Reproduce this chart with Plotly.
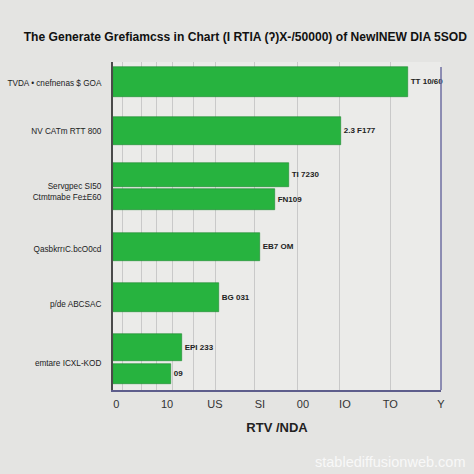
import plotly.graph_objects as go

# ---- data ----
bar_values = [89.9, 69.5, 53.7, 49.4, 44.8, 32.3, 21.0, 17.7]
bar_labels = ["TT 10/60", "2.3 F177", "TI 7230", "FN109", "EB7 OM", "BG 031", "EPI 233", "09"]
category_labels = [
    "TVDA • cnefnenas $ GOA",
    "NV CATm RTT 800",
    "Servgpec SI50<br>Ctmtmabe Fe±E60",
    "QasbkrrıC.bcO0cd",
    "p/de ABCSAC",
    "emtare ICXL-KOD",
]
x_tick_labels = ["0", "10", "US", "SI", "00", "IO", "TO", "Y"]
title_text = "The Generate Grefiamcss in Chart (I RTIA (ʔ)X-/50000) of NewINEW DIA 5SOD"
x_title = "RTV /NDA"

# ---- layout helpers (positions / sizes) ----
bar_pos = [0.82, 2.77, 4.56, 5.54, 7.43, 9.48, 11.5, 12.55]
bar_width = [1.2, 1.13, 0.98, 0.86, 1.13, 1.2, 1.09, 0.82]
cat_pos = [0.84, 2.77, 5.22, 7.55, 9.76, 12.13]
x_tick_pos = [1.0, 16.5, 31.1, 44.8, 57.9, 70.7, 84.5, 100.0]
grid_pos = [3.0, 8.8, 13.4, 18.0, 24.4, 31.1, 43.0, 56.4, 69.2, 84.5]

fig = go.Figure()
fig.add_trace(go.Bar(
    x=bar_values, y=bar_pos, width=bar_width, orientation="h",
    marker=dict(color="#27b33f", line=dict(color="#1e8a30", width=0.6)),
    text=["<b>" + t + "</b>" for t in bar_labels], textposition="outside", cliponaxis=False,
    textfont=dict(family="Liberation Sans Narrow, Liberation Sans, Arial", size=8, color="#222"),
    hoverinfo="skip",
))

fig.update_layout(
    width=474, height=474,
    margin=dict(l=113, r=33, t=62, b=84, autoexpand=False),
    paper_bgcolor="#e4e4e2", plot_bgcolor="#ebebe9",
    showlegend=False,
    font=dict(family="Liberation Sans, Arial", color="#1a1a1a"),
    title=dict(text="<b>" + title_text + "</b>", x=0.05, xanchor="left", y=0.922, yanchor="middle",
               font=dict(size=12.1, color="#111", family="Liberation Sans, Arial")),
    xaxis=dict(
        range=[0, 100], tickmode="array", tickvals=x_tick_pos, ticktext=x_tick_labels,
        showgrid=False, zeroline=False, ticks="", ticklabelstandoff=3, automargin=False,
        tickfont=dict(size=11, color="#333"),
        showline=True, linecolor="#5e5e8c", linewidth=2,
        minor=dict(tickmode="array", tickvals=grid_pos, showgrid=True, gridcolor="#c9c9c9", gridwidth=1, ticks=""),
        title=dict(text="<b>" + x_title + "</b>", font=dict(size=13, color="#222"), standoff=14),
    ),
    yaxis=dict(
        range=[13.2, 0], tickmode="array", tickvals=cat_pos, ticktext=category_labels,
        showgrid=False, zeroline=False, ticks="", ticklabelstandoff=8, automargin=False,
        tickfont=dict(size=8.2, color="#222", family="Liberation Sans, Arial"),
        showline=True, linecolor="#4a4a4a", linewidth=2,
    ),
    bargap=0,
    shapes=[dict(type="line", xref="paper", yref="paper", x0=1, x1=1, y0=0, y1=0.985,
                 line=dict(color="#6e6ea0", width=1.5))],
    annotations=[dict(text="stablediffusionweb.com", xref="paper", yref="paper",
                      x=1.08, y=-0.22, xanchor="right", yanchor="middle", showarrow=False,
                      font=dict(size=14.5, color="#f8f8f8", family="Liberation Sans, Arial"))],
)

fig.write_html("out.html")
